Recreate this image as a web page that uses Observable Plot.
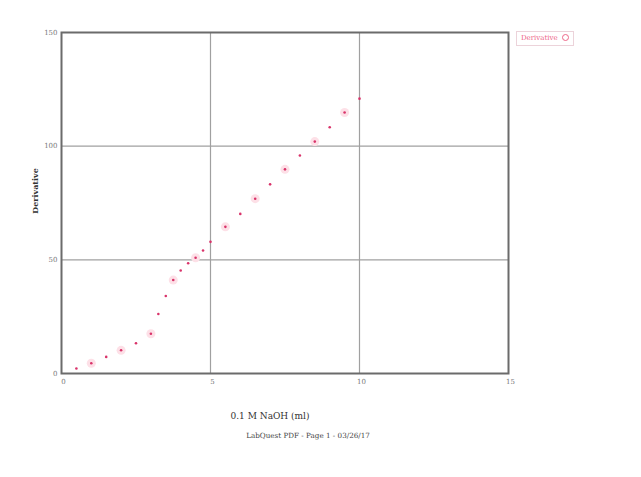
<!DOCTYPE html>
<html>
<head>
<meta charset="utf-8">
<script src="https://cdn.jsdelivr.net/npm/d3@7"></script>
<script src="https://cdn.jsdelivr.net/npm/@observablehq/plot@0.6"></script>
<style>
  body { margin: 0; background: #fff; font-family: "DejaVu Serif", serif; }
  #wrap { position: relative; width: 641px; height: 477px; }
  #legend { position: absolute; left: 516px; top: 31px; height: 13px; padding: 0 4px; border: 1px solid #ecd3da;
    font: 7px "DejaVu Serif", serif; color: #ee6688; line-height: 13px; white-space: nowrap; }
  #legend span { display: inline-block; width: 5px; height: 5px; border: 1px solid #ee6688; border-radius: 50%; margin-left: 4px; vertical-align: -1px; }
</style>
</head>
<body>
<div id="wrap"></div>
<script>
const volume = [0.5, 1, 1.5, 2, 2.5, 3, 3.25, 3.5, 3.75, 4, 4.25, 4.5, 4.75, 5, 5.5, 6, 6.5, 7, 7.5, 8, 8.5, 9, 9.5, 10];
const derivative = [2.2, 4.5, 7.3, 10.2, 13.3, 17.5, 26.2, 34.1, 41.1, 45.3, 48.5, 50.9, 54.1, 57.9, 64.5, 70.2, 76.9, 83.2, 89.8, 95.9, 102, 108.3, 114.8, 120.9];
const highlighted = [false, true, false, true, false, true, false, false, true, false, false, true, false, false, true, false, true, false, true, false, true, false, true, false];
const xTicks = [0, 5, 10, 15];
const yTicks = [0, 50, 100, 150];
const xLabel = "0.1 M NaOH (ml)";
const yLabel = "Derivative";
const footer = "LabQuest PDF - Page 1 - 03/26/17";
const seriesName = "Derivative";

const data = volume.map((v, i) => ({x: v, y: derivative[i], big: highlighted[i]}));

const chart = Plot.plot({
  width: 641,
  height: 477,
  marginTop: 32,
  marginBottom: 104,
  marginLeft: 61,
  marginRight: 133,
  style: {fontFamily: "DejaVu Serif, serif", fontSize: "7px", background: "#fff", overflow: "visible"},
  x: {domain: [0, 15], ticks: xTicks},
  y: {domain: [0, 150], ticks: yTicks},
  marks: [
    Plot.gridX(xTicks.slice(1, -1), {stroke: "#a0a0a0", strokeOpacity: 1, strokeWidth: 1.2}),
    Plot.gridY(yTicks.slice(1, -1), {stroke: "#a0a0a0", strokeOpacity: 1, strokeWidth: 1.2}),
    Plot.frame({stroke: "#6b6b6b", strokeWidth: 2}),
    Plot.axisX(xTicks, {tickSize: 0, tickPadding: 6, label: null, fill: "#777", dx: 2}),
    Plot.axisY(yTicks, {tickSize: 0, tickPadding: 4, label: null, fill: "#777"}),
    Plot.dot(data.filter(d => d.big), {x: "x", y: "y", r: 4.5, fill: "#fde0e7", stroke: "none"}),
    Plot.dot(data, {x: "x", y: "y", r: 1.3, fill: "#d9336a", stroke: "none"}),
    Plot.text([xLabel], {frameAnchor: "bottom", text: d => d, dy: 43, dx: -15, fontSize: 9, fill: "#333", lineAnchor: "middle"}),
    Plot.text([yLabel], {frameAnchor: "left", textAnchor: "middle", text: d => d, rotate: -90, dx: -26, dy: -12, fontSize: 8, fill: "#333", fontWeight: "bold", lineAnchor: "middle"}),
    Plot.text([footer], {frameAnchor: "bottom", text: d => d, dy: 62, dx: 23, fontSize: 7.2, fill: "#444", lineAnchor: "middle"})
  ]
});

const wrap = document.getElementById("wrap");
wrap.appendChild(chart);
const legend = document.createElement("div");
legend.id = "legend";
legend.textContent = seriesName;
legend.appendChild(document.createElement("span"));
wrap.appendChild(legend);
</script>
</body>
</html>
